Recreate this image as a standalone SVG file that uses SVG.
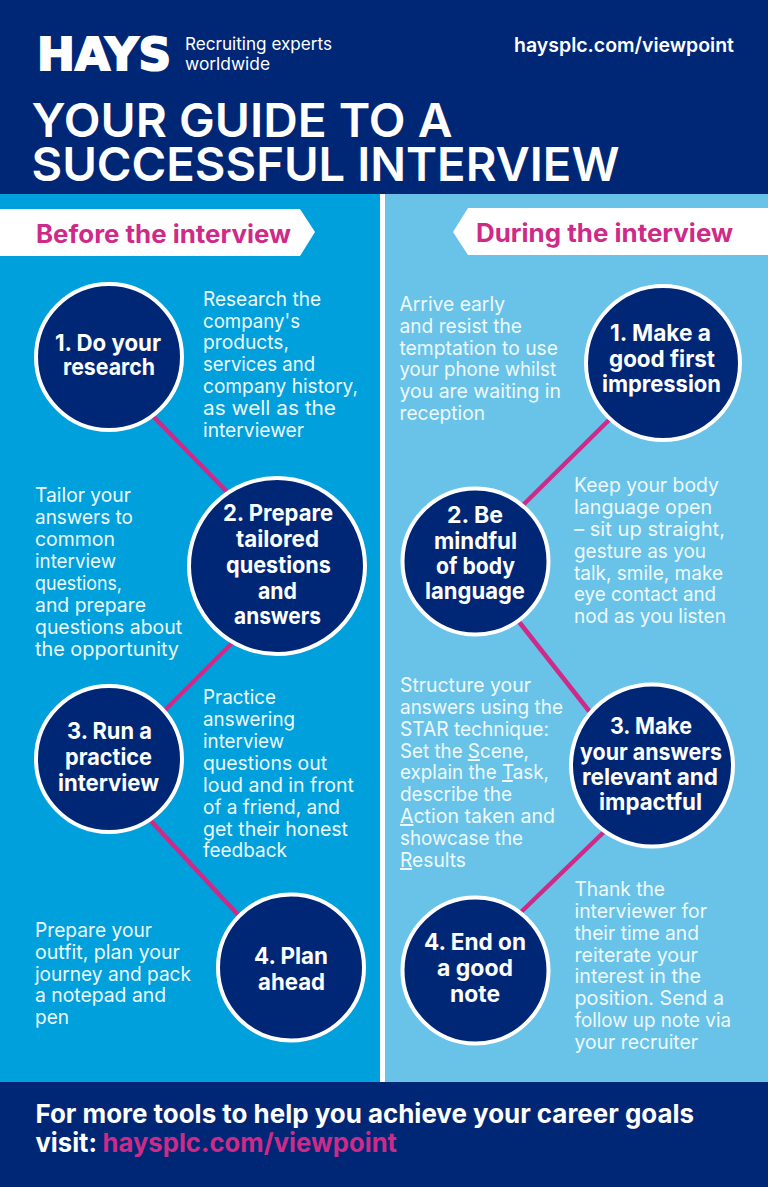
<svg xmlns="http://www.w3.org/2000/svg" width="768" height="1187" viewBox="0 0 768 1187">
<style>
text{font-family:Inter,"Liberation Sans",sans-serif;fill:#fff}
.b{font-size:20px;font-weight:400;fill:#eef9fd}
.n{font-size:23px;font-weight:700;text-anchor:middle}
.c{fill:#002776;stroke:#fff;stroke-width:4}
.h{font-size:25px;font-weight:700;fill:#ce2a87}
.t{font-size:47px;font-weight:600}
.f{font-size:26px;font-weight:700}
.l{stroke:#ce2a87;stroke-width:4.500;fill:none}
.u{text-decoration:underline}
</style>
<rect width="768" height="1187" fill="#002776"/>
<rect x="0" y="194" width="380" height="888" fill="#00a0dc"/>
<rect x="380" y="194" width="5" height="888" fill="#fff"/>
<rect x="385" y="194" width="383" height="888" fill="#69c3e8"/>

<g id="header">
<text x="37" y="70" font-size="45" style="font-family:'DejaVu Sans',sans-serif;font-weight:700;stroke:#fff;stroke-width:2" textLength="134" lengthAdjust="spacingAndGlyphs">HAYS</text>
<text x="185" y="50" font-size="17" textLength="147" lengthAdjust="spacingAndGlyphs">Recruiting experts</text>
<text x="185" y="70" font-size="17" textLength="85" lengthAdjust="spacingAndGlyphs">worldwide</text>
<text x="514" y="52" font-size="20" font-weight="600" textLength="220" lengthAdjust="spacingAndGlyphs">haysplc.com/viewpoint</text>
<text class="t" x="31.500" y="137" textLength="421" lengthAdjust="spacingAndGlyphs">YOUR GUIDE TO A</text>
<text class="t" x="31.500" y="181" textLength="588" lengthAdjust="spacingAndGlyphs">SUCCESSFUL INTERVIEW</text>
</g>

<g id="banner-before">
<polygon points="0,209 300,209 315,232 300,256 0,256" fill="#fff"/>
<text class="h" x="36" y="243" textLength="255" lengthAdjust="spacingAndGlyphs">Before the interview</text>
</g>
<g id="banner-during">
<polygon points="768,208 468,208 453,232 468,255 768,255" fill="#fff"/>
<text class="h" x="476" y="242" textLength="257" lengthAdjust="spacingAndGlyphs">During the interview</text>
</g>

<g id="connectors">
<line class="l" x1="150" y1="413" x2="231" y2="496"/>
<line class="l" x1="238" y1="637" x2="162" y2="713"/>
<line class="l" x1="150" y1="820" x2="241" y2="918"/>
<line class="l" x1="611" y1="418" x2="521" y2="507"/>
<line class="l" x1="516" y1="618" x2="593" y2="716"/>
<line class="l" x1="607" y1="829" x2="518" y2="915"/>
</g>

<g id="before-1">
<circle class="c" cx="109" cy="357" r="73"/>
<text class="n" x="108" y="351" textLength="106" lengthAdjust="spacingAndGlyphs">1. Do your</text>
<text class="n" x="109" y="375" textLength="92" lengthAdjust="spacingAndGlyphs">research</text>
<text class="b" x="203" y="306" textLength="118" lengthAdjust="spacingAndGlyphs">Research the</text>
<text class="b" x="203" y="328" textLength="97" lengthAdjust="spacingAndGlyphs">company's</text>
<text class="b" x="203" y="349" textLength="86" lengthAdjust="spacingAndGlyphs">products,</text>
<text class="b" x="203" y="371" textLength="112" lengthAdjust="spacingAndGlyphs">services and</text>
<text class="b" x="203" y="393" textLength="155" lengthAdjust="spacingAndGlyphs">company history,</text>
<text class="b" x="203" y="415" textLength="133" lengthAdjust="spacingAndGlyphs">as well as the</text>
<text class="b" x="203" y="437" textLength="101" lengthAdjust="spacingAndGlyphs">interviewer</text>
</g>

<g id="before-2">
<circle class="c" cx="277" cy="566" r="88"/>
<text class="n" x="278" y="521" textLength="110" lengthAdjust="spacingAndGlyphs">2. Prepare</text>
<text class="n" x="277.500" y="547" textLength="83" lengthAdjust="spacingAndGlyphs">tailored</text>
<text class="n" x="278.500" y="573" textLength="105" lengthAdjust="spacingAndGlyphs">questions</text>
<text class="n" x="277.500" y="599" textLength="39" lengthAdjust="spacingAndGlyphs">and</text>
<text class="n" x="277.500" y="624" textLength="87" lengthAdjust="spacingAndGlyphs">answers</text>
<text class="b" x="35" y="502" textLength="96" lengthAdjust="spacingAndGlyphs">Tailor your</text>
<text class="b" x="35" y="524" textLength="98" lengthAdjust="spacingAndGlyphs">answers to</text>
<text class="b" x="35" y="546" textLength="80" lengthAdjust="spacingAndGlyphs">common</text>
<text class="b" x="35" y="568" textLength="81" lengthAdjust="spacingAndGlyphs">interview</text>
<text class="b" x="35" y="590" textLength="87" lengthAdjust="spacingAndGlyphs">questions,</text>
<text class="b" x="35" y="612" textLength="111" lengthAdjust="spacingAndGlyphs">and prepare</text>
<text class="b" x="35" y="634" textLength="147" lengthAdjust="spacingAndGlyphs">questions about</text>
<text class="b" x="35" y="656" textLength="144" lengthAdjust="spacingAndGlyphs">the opportunity</text>
</g>

<g id="before-3">
<circle class="c" cx="109" cy="759" r="73"/>
<text class="n" x="109.500" y="739" textLength="85" lengthAdjust="spacingAndGlyphs">3. Run a</text>
<text class="n" x="108.500" y="765" textLength="87" lengthAdjust="spacingAndGlyphs">practice</text>
<text class="n" x="108.500" y="791" textLength="101" lengthAdjust="spacingAndGlyphs">interview</text>
<text class="b" x="203" y="704" textLength="73" lengthAdjust="spacingAndGlyphs">Practice</text>
<text class="b" x="203" y="726" textLength="92" lengthAdjust="spacingAndGlyphs">answering</text>
<text class="b" x="203" y="748" textLength="81" lengthAdjust="spacingAndGlyphs">interview</text>
<text class="b" x="203" y="770" textLength="124" lengthAdjust="spacingAndGlyphs">questions out</text>
<text class="b" x="203" y="792" textLength="151" lengthAdjust="spacingAndGlyphs">loud and in front</text>
<text class="b" x="203" y="814" textLength="137" lengthAdjust="spacingAndGlyphs">of a friend, and</text>
<text class="b" x="203" y="836" textLength="145" lengthAdjust="spacingAndGlyphs">get their honest</text>
<text class="b" x="203" y="857" textLength="84" lengthAdjust="spacingAndGlyphs">feedback</text>
</g>

<g id="before-4">
<circle class="c" cx="291" cy="967.500" r="73"/>
<text class="n" x="291" y="964" textLength="74" lengthAdjust="spacingAndGlyphs">4. Plan</text>
<text class="n" x="291.500" y="990" textLength="67" lengthAdjust="spacingAndGlyphs">ahead</text>
<text class="b" x="35" y="937" textLength="117" lengthAdjust="spacingAndGlyphs">Prepare your</text>
<text class="b" x="35" y="959" textLength="145" lengthAdjust="spacingAndGlyphs">outfit, plan your</text>
<text class="b" x="35" y="981" textLength="156" lengthAdjust="spacingAndGlyphs">journey and pack</text>
<text class="b" x="35" y="1002" textLength="131" lengthAdjust="spacingAndGlyphs">a notepad and</text>
<text class="b" x="35" y="1024" textLength="34" lengthAdjust="spacingAndGlyphs">pen</text>
</g>

<g id="during-1">
<circle class="c" cx="663" cy="363" r="77"/>
<text class="n" x="660.500" y="341" textLength="101" lengthAdjust="spacingAndGlyphs">1. Make a</text>
<text class="n" x="662" y="367" textLength="106" lengthAdjust="spacingAndGlyphs">good first</text>
<text class="n" x="661.500" y="392" textLength="119" lengthAdjust="spacingAndGlyphs">impression</text>
<text class="b" x="399.500" y="311" textLength="105.500" lengthAdjust="spacingAndGlyphs">Arrive early</text>
<text class="b" x="399.500" y="333" textLength="122.500" lengthAdjust="spacingAndGlyphs">and resist the</text>
<text class="b" x="399.500" y="355" textLength="158.500" lengthAdjust="spacingAndGlyphs">temptation to use</text>
<text class="b" x="399.500" y="376" textLength="156.500" lengthAdjust="spacingAndGlyphs">your phone whilst</text>
<text class="b" x="399.500" y="398" textLength="161.500" lengthAdjust="spacingAndGlyphs">you are waiting in</text>
<text class="b" x="399.500" y="420" textLength="85.500" lengthAdjust="spacingAndGlyphs">reception</text>
</g>

<g id="during-2">
<circle class="c" cx="475.500" cy="561.500" r="73"/>
<text class="n" x="475" y="523" textLength="56" lengthAdjust="spacingAndGlyphs">2. Be</text>
<text class="n" x="475.500" y="549" textLength="83" lengthAdjust="spacingAndGlyphs">mindful</text>
<text class="n" x="475.500" y="574" textLength="79" lengthAdjust="spacingAndGlyphs">of body</text>
<text class="n" x="475" y="599" textLength="100" lengthAdjust="spacingAndGlyphs">language</text>
<text class="b" x="574" y="492" textLength="145" lengthAdjust="spacingAndGlyphs">Keep your body</text>
<text class="b" x="574" y="514" textLength="138" lengthAdjust="spacingAndGlyphs">language open</text>
<text class="b" x="574" y="536" textLength="151" lengthAdjust="spacingAndGlyphs">– sit up straight,</text>
<text class="b" x="574" y="558" textLength="132" lengthAdjust="spacingAndGlyphs">gesture as you</text>
<text class="b" x="574" y="580" textLength="149" lengthAdjust="spacingAndGlyphs">talk, smile, make</text>
<text class="b" x="574" y="601" textLength="142" lengthAdjust="spacingAndGlyphs">eye contact and</text>
<text class="b" x="574" y="623" textLength="152" lengthAdjust="spacingAndGlyphs">nod as you listen</text>
</g>

<g id="during-3">
<circle class="c" cx="652" cy="765.500" r="81"/>
<text class="n" x="651" y="734" textLength="82" lengthAdjust="spacingAndGlyphs">3. Make</text>
<text class="n" x="651" y="760" textLength="142" lengthAdjust="spacingAndGlyphs">your answers</text>
<text class="n" x="650" y="785" textLength="136" lengthAdjust="spacingAndGlyphs">relevant and</text>
<text class="n" x="650.500" y="810" textLength="103" lengthAdjust="spacingAndGlyphs">impactful</text>
<text class="b" x="400" y="692" textLength="131" lengthAdjust="spacingAndGlyphs">Structure your</text>
<text class="b" x="400" y="714" textLength="163" lengthAdjust="spacingAndGlyphs">answers using the</text>
<text class="b" x="400" y="736" textLength="149" lengthAdjust="spacingAndGlyphs">STAR technique:</text>
<text class="b" x="400" y="758" textLength="129" lengthAdjust="spacingAndGlyphs">Set the <tspan class="u">S</tspan>cene,</text>
<text class="b" x="400" y="779" textLength="149" lengthAdjust="spacingAndGlyphs">explain the <tspan class="u">T</tspan>ask,</text>
<text class="b" x="400" y="801" textLength="112" lengthAdjust="spacingAndGlyphs">describe the</text>
<text class="b" x="400" y="823" textLength="155" lengthAdjust="spacingAndGlyphs"><tspan class="u">A</tspan>ction taken and</text>
<text class="b" x="400" y="845" textLength="123" lengthAdjust="spacingAndGlyphs">showcase the</text>
<text class="b" x="400" y="867" textLength="66" lengthAdjust="spacingAndGlyphs"><tspan class="u">R</tspan>esults</text>
</g>

<g id="during-4">
<circle class="c" cx="475.500" cy="970.500" r="73"/>
<text class="n" x="475" y="950" textLength="102" lengthAdjust="spacingAndGlyphs">4. End on</text>
<text class="n" x="475" y="976" textLength="76" lengthAdjust="spacingAndGlyphs">a good</text>
<text class="n" x="475" y="1002" textLength="50" lengthAdjust="spacingAndGlyphs">note</text>
<text class="b" x="574.500" y="896" textLength="90.500" lengthAdjust="spacingAndGlyphs">Thank the</text>
<text class="b" x="574.500" y="918" textLength="132.500" lengthAdjust="spacingAndGlyphs">interviewer for</text>
<text class="b" x="574.500" y="940" textLength="124.500" lengthAdjust="spacingAndGlyphs">their time and</text>
<text class="b" x="574.500" y="962" textLength="123.500" lengthAdjust="spacingAndGlyphs">reiterate your</text>
<text class="b" x="574.500" y="983" textLength="126.500" lengthAdjust="spacingAndGlyphs">interest in the</text>
<text class="b" x="574.500" y="1005" textLength="149.500" lengthAdjust="spacingAndGlyphs">position. Send a</text>
<text class="b" x="574.500" y="1027" textLength="156.500" lengthAdjust="spacingAndGlyphs">follow up note via</text>
<text class="b" x="574.500" y="1049" textLength="123.500" lengthAdjust="spacingAndGlyphs">your recruiter</text>
</g>

<g id="footer">
<text class="f" x="35.500" y="1123" textLength="658.500" lengthAdjust="spacingAndGlyphs">For more tools to help you achieve your career goals</text>
<text class="f" x="35.500" y="1152" textLength="61.500" lengthAdjust="spacingAndGlyphs">visit:</text>
<text class="f" x="102.500" y="1152" style="fill:#ce2a87" textLength="294.500" lengthAdjust="spacingAndGlyphs">haysplc.com/viewpoint</text>
</g>
</svg>
